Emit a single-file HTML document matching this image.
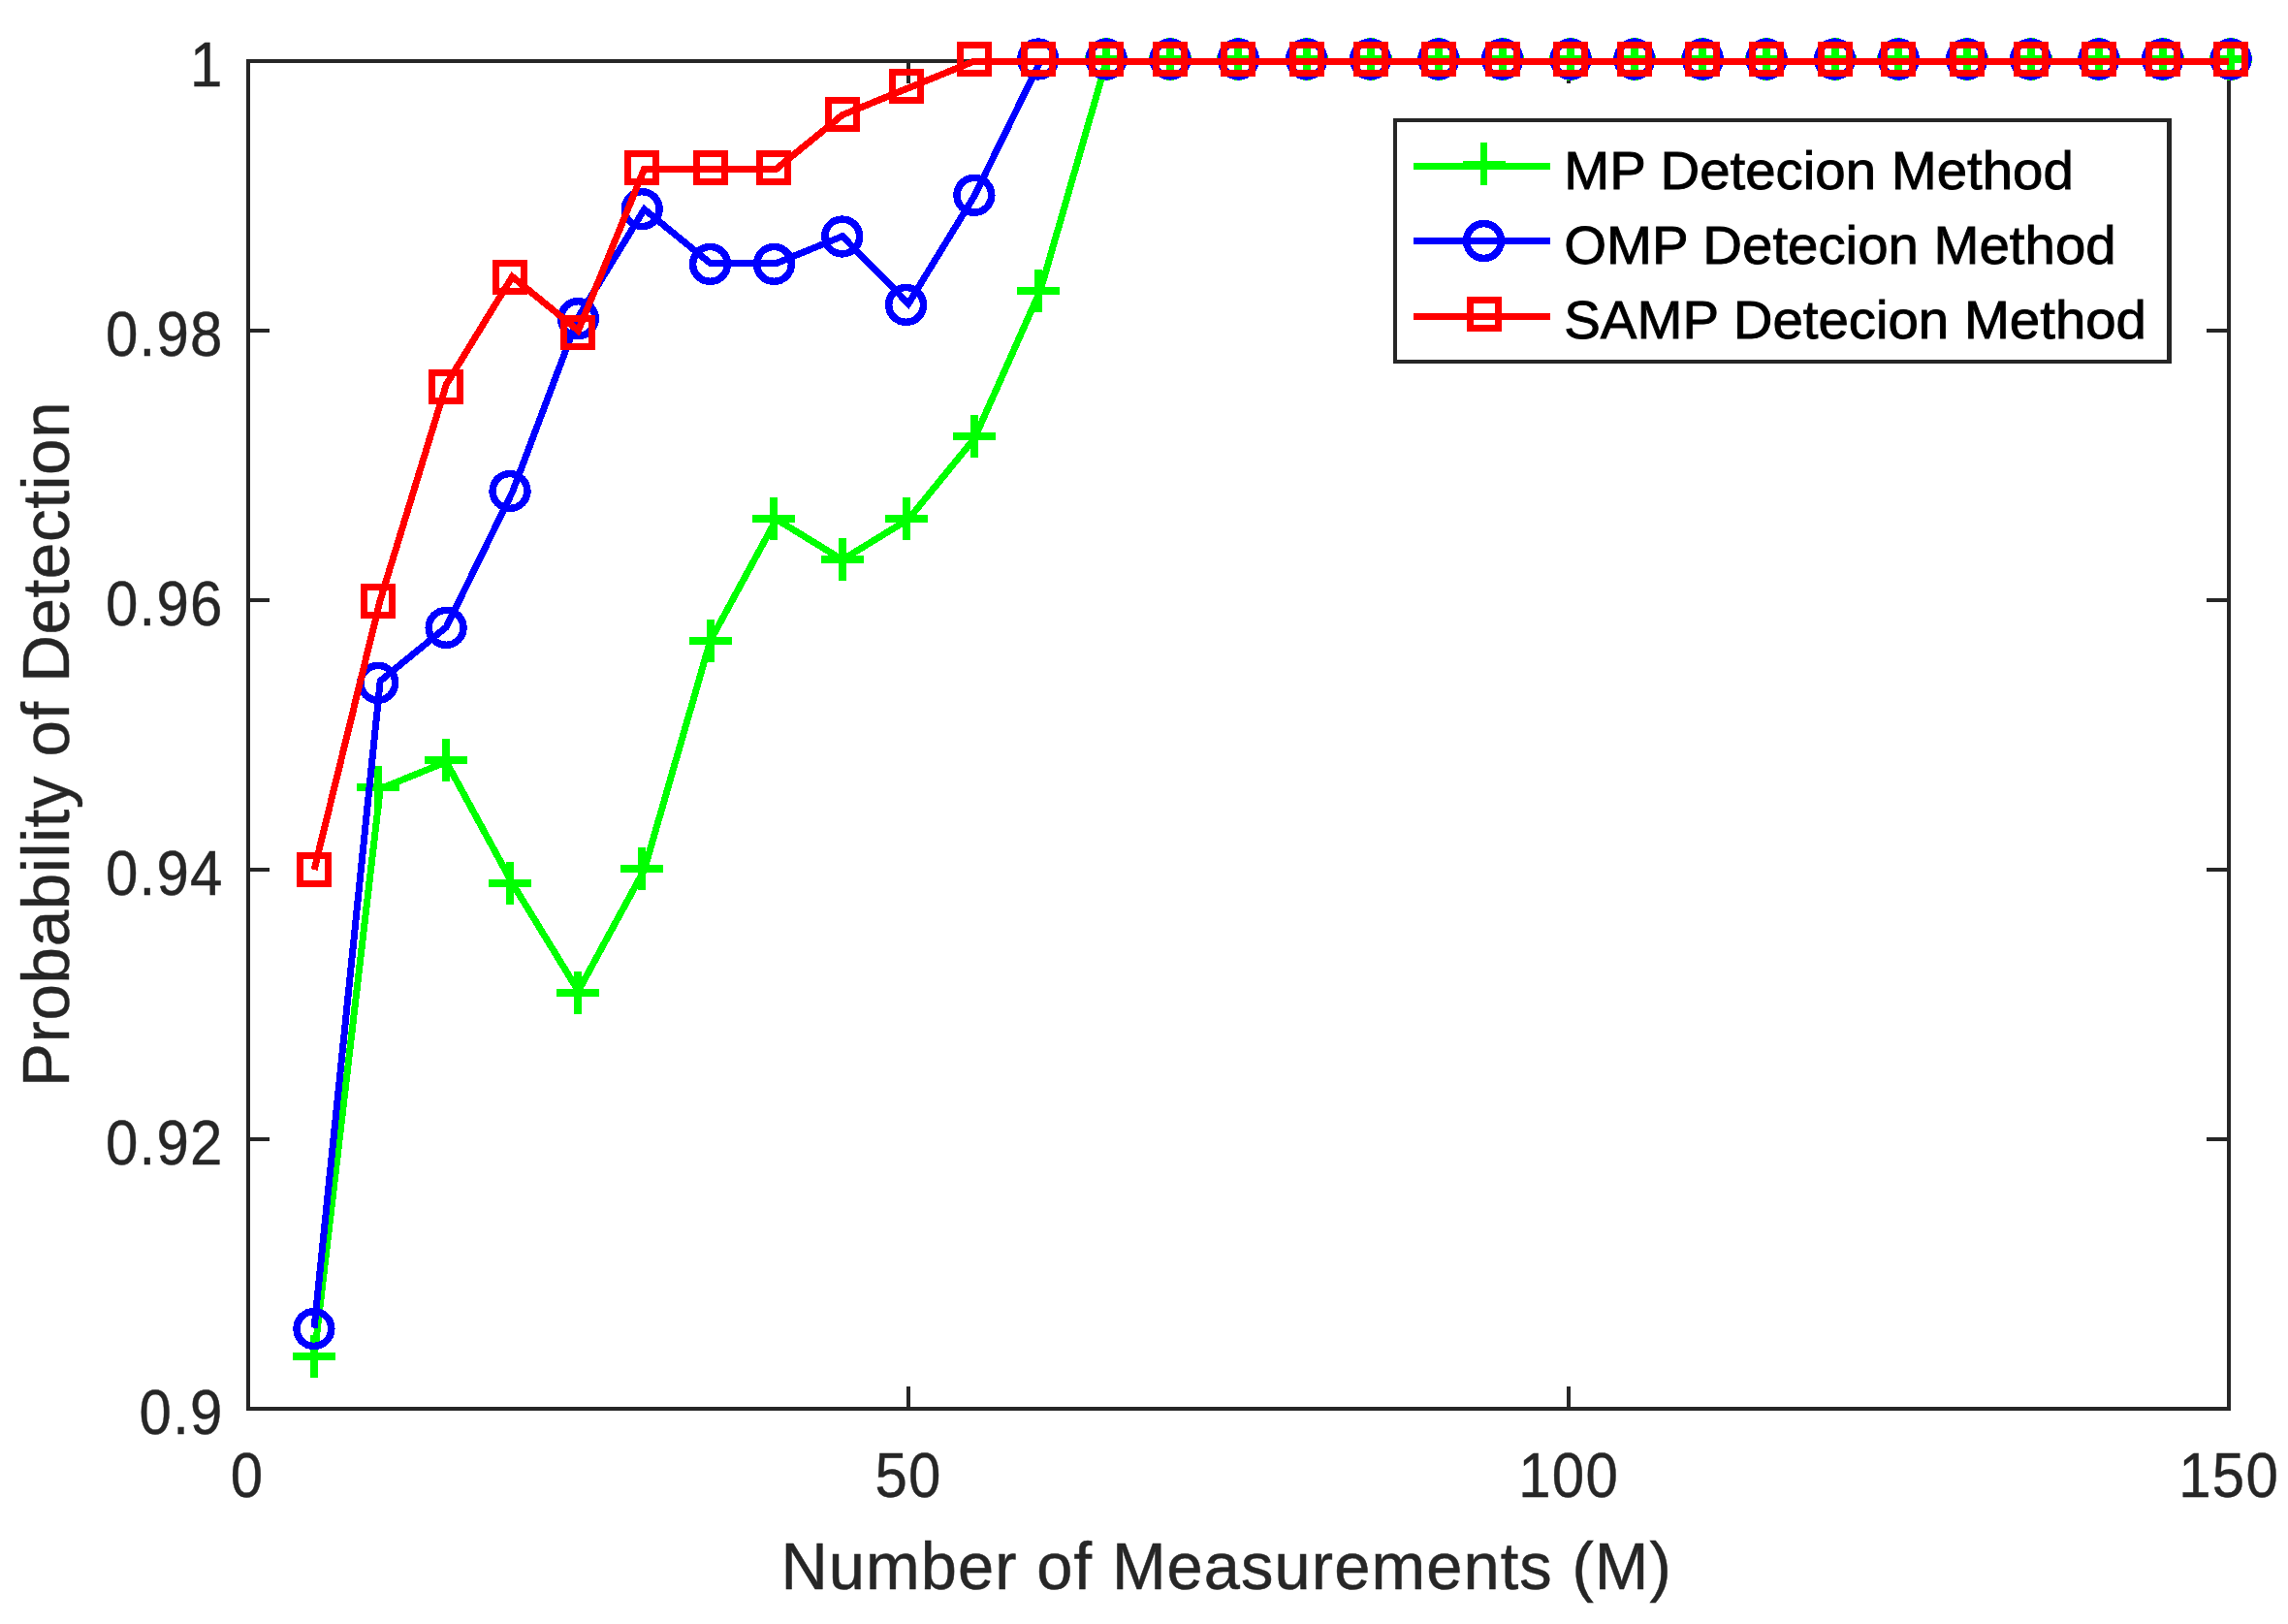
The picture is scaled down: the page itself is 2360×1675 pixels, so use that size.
<!DOCTYPE html>
<html lang="en"><head><meta charset="utf-8"><title>Probability of Detection vs Number of Measurements</title>
<style>
html,body{margin:0;padding:0;background:#fff;}
body{width:2360px;height:1675px;overflow:hidden;}
svg{display:block;}
text{font-family:"Liberation Sans",sans-serif;}
</style></head><body>
<svg width="2360" height="1675" viewBox="0 0 2360 1675">
<rect x="0" y="0" width="2360" height="1675" fill="#ffffff"/>

<g fill="none" stroke="#262626" stroke-width="4" shape-rendering="crispEdges">
<rect x="256.0" y="63.0" width="2043.0" height="1390.0"/>
<line x1="937" y1="1453.0" x2="937" y2="1430.0"/>
<line x1="937" y1="63.0" x2="937" y2="86.0"/>
<line x1="1618" y1="1453.0" x2="1618" y2="1430.0"/>
<line x1="1618" y1="63.0" x2="1618" y2="86.0"/>
<line x1="256.0" y1="1175" x2="278.0" y2="1175"/>
<line x1="2299.0" y1="1175" x2="2276.0" y2="1175"/>
<line x1="256.0" y1="897" x2="278.0" y2="897"/>
<line x1="2299.0" y1="897" x2="2276.0" y2="897"/>
<line x1="256.0" y1="619" x2="278.0" y2="619"/>
<line x1="2299.0" y1="619" x2="2276.0" y2="619"/>
<line x1="256.0" y1="341" x2="278.0" y2="341"/>
<line x1="2299.0" y1="341" x2="2276.0" y2="341"/>
</g>
<g fill="#262626" stroke="#262626" stroke-width="0.4" font-size="60" letter-spacing="1.2">
<text transform="translate(255.0,1544.4) scale(1,1.075)" text-anchor="middle">0</text>
<text transform="translate(937.1,1544.4) scale(1,1.075)" text-anchor="middle">50</text>
<text transform="translate(1618.1,1544.4) scale(1,1.075)" text-anchor="middle">100</text>
<text transform="translate(2299.1,1544.4) scale(1,1.075)" text-anchor="middle">150</text>
<text transform="translate(230.6,1479.3) scale(1,1.075)" text-anchor="end">0.9</text>
<text transform="translate(230.6,1201.3) scale(1,1.075)" text-anchor="end">0.92</text>
<text transform="translate(230.6,923.3) scale(1,1.075)" text-anchor="end">0.94</text>
<text transform="translate(230.6,645.3) scale(1,1.075)" text-anchor="end">0.96</text>
<text transform="translate(230.6,367.3) scale(1,1.075)" text-anchor="end">0.98</text>
<text transform="translate(230.6,89.3) scale(1,1.075)" text-anchor="end">1</text>
</g>
<text transform="translate(1265.2,1639) scale(1,1.03)" text-anchor="middle" font-size="66.8" letter-spacing="1.1" fill="#262626" stroke="#262626" stroke-width="0.5">Number of Measurements (M)</text>
<text transform="translate(71,767.4) rotate(-90) scale(1,1.03)" text-anchor="middle" font-size="67.4" letter-spacing="0.6" fill="#262626" stroke="#262626" stroke-width="0.4">Probability of Detection</text>
<g stroke="#00ff00" fill="none" shape-rendering="crispEdges">
<polyline points="324.10,1398.79 392.20,813.60 460.30,785.80 528.40,910.90 596.50,1022.10 664.60,897.00 732.70,660.70 800.80,535.60 868.90,577.30 937.00,535.60 1005.10,452.20 1073.20,299.30 1141.30,63.00 1209.40,63.00 1277.50,63.00 1345.60,63.00 1413.70,63.00 1481.80,63.00 1549.90,63.00 1618.00,63.00 1686.10,63.00 1754.20,63.00 1822.30,63.00 1890.40,63.00 1958.50,63.00 2026.60,63.00 2094.70,63.00 2162.80,63.00 2230.90,63.00 2299.00,63.00" stroke-width="7" stroke-linejoin="miter"/>
<path d="M301.90 1398.99H345.90M323.90 1376.99V1420.99" stroke-width="8"/>
<path d="M367.80 812.20H411.80M389.80 790.20V834.20" stroke-width="8"/>
<path d="M438.10 784.20H482.10M460.10 762.20V806.20" stroke-width="8"/>
<path d="M504.00 910.50H548.00M526.00 888.50V932.50" stroke-width="8"/>
<path d="M574.30 1023.60H618.30M596.30 1001.60V1045.60" stroke-width="8"/>
<path d="M640.20 896.30H684.20M662.20 874.30V918.30" stroke-width="8"/>
<path d="M710.50 661.40H754.50M732.50 639.40V683.40" stroke-width="8"/>
<path d="M776.40 535.00H820.40M798.40 513.00V557.00" stroke-width="8"/>
<path d="M846.70 577.20H890.70M868.70 555.20V599.20" stroke-width="8"/>
<path d="M912.60 535.00H956.60M934.60 513.00V557.00" stroke-width="8"/>
<path d="M982.90 450.40H1026.90M1004.90 428.40V472.40" stroke-width="8"/>
<path d="M1048.80 300.20H1092.80M1070.80 278.20V322.20" stroke-width="8"/>
<path d="M1119.10 61.00H1163.10M1141.10 39.00V83.00" stroke-width="8"/>
<path d="M1185.00 61.00H1229.00M1207.00 39.00V83.00" stroke-width="8"/>
<path d="M1255.30 61.00H1299.30M1277.30 39.00V83.00" stroke-width="8"/>
<path d="M1325.70 61.00H1369.70M1347.70 39.00V83.00" stroke-width="8"/>
<path d="M1391.50 61.00H1435.50M1413.50 39.00V83.00" stroke-width="8"/>
<path d="M1461.90 61.00H1505.90M1483.90 39.00V83.00" stroke-width="8"/>
<path d="M1527.70 61.00H1571.70M1549.70 39.00V83.00" stroke-width="8"/>
<path d="M1598.10 61.00H1642.10M1620.10 39.00V83.00" stroke-width="8"/>
<path d="M1663.90 61.00H1707.90M1685.90 39.00V83.00" stroke-width="8"/>
<path d="M1734.30 61.00H1778.30M1756.30 39.00V83.00" stroke-width="8"/>
<path d="M1800.10 61.00H1844.10M1822.10 39.00V83.00" stroke-width="8"/>
<path d="M1870.50 61.00H1914.50M1892.50 39.00V83.00" stroke-width="8"/>
<path d="M1936.30 61.00H1980.30M1958.30 39.00V83.00" stroke-width="8"/>
<path d="M2006.70 61.00H2050.70M2028.70 39.00V83.00" stroke-width="8"/>
<path d="M2072.50 61.00H2116.50M2094.50 39.00V83.00" stroke-width="8"/>
<path d="M2142.90 61.00H2186.90M2164.90 39.00V83.00" stroke-width="8"/>
<path d="M2208.70 61.00H2252.70M2230.70 39.00V83.00" stroke-width="8"/>
<path d="M2279.10 61.00H2323.10M2301.10 39.00V83.00" stroke-width="8"/>
</g>
<g stroke="#0000ff" fill="none" shape-rendering="crispEdges">
<polyline points="324.10,1369.60 392.20,702.40 460.30,646.80 528.40,507.80 596.50,327.10 664.60,215.90 732.70,271.50 800.80,271.50 868.90,243.70 937.00,313.20 1005.10,202.00 1073.20,63.00 1141.30,63.00 1209.40,63.00 1277.50,63.00 1345.60,63.00 1413.70,63.00 1481.80,63.00 1549.90,63.00 1618.00,63.00 1686.10,63.00 1754.20,63.00 1822.30,63.00 1890.40,63.00 1958.50,63.00 2026.60,63.00 2094.70,63.00 2162.80,63.00 2230.90,63.00 2299.00,63.00" stroke-width="7" stroke-linejoin="miter"/>
<circle cx="323.90" cy="1370.50" r="17.9" stroke-width="7.5"/>
<circle cx="389.80" cy="704.30" r="17.9" stroke-width="7.5"/>
<circle cx="460.10" cy="647.40" r="17.9" stroke-width="7.5"/>
<circle cx="526.00" cy="506.50" r="17.9" stroke-width="7.5"/>
<circle cx="596.30" cy="328.60" r="17.9" stroke-width="7.5"/>
<circle cx="662.20" cy="215.60" r="17.9" stroke-width="7.5"/>
<circle cx="732.50" cy="272.40" r="17.9" stroke-width="7.5"/>
<circle cx="798.40" cy="272.40" r="17.9" stroke-width="7.5"/>
<circle cx="868.70" cy="244.00" r="17.9" stroke-width="7.5"/>
<circle cx="934.60" cy="314.40" r="17.9" stroke-width="7.5"/>
<circle cx="1004.90" cy="201.30" r="17.9" stroke-width="7.5"/>
<circle cx="1070.80" cy="61.00" r="17.9" stroke-width="7.5"/>
<circle cx="1141.10" cy="61.00" r="17.9" stroke-width="7.5"/>
<circle cx="1207.00" cy="61.00" r="17.9" stroke-width="7.5"/>
<circle cx="1277.30" cy="61.00" r="17.9" stroke-width="7.5"/>
<circle cx="1347.70" cy="61.00" r="17.9" stroke-width="7.5"/>
<circle cx="1413.50" cy="61.00" r="17.9" stroke-width="7.5"/>
<circle cx="1483.90" cy="61.00" r="17.9" stroke-width="7.5"/>
<circle cx="1549.70" cy="61.00" r="17.9" stroke-width="7.5"/>
<circle cx="1620.10" cy="61.00" r="17.9" stroke-width="7.5"/>
<circle cx="1685.90" cy="61.00" r="17.9" stroke-width="7.5"/>
<circle cx="1756.30" cy="61.00" r="17.9" stroke-width="7.5"/>
<circle cx="1822.10" cy="61.00" r="17.9" stroke-width="7.5"/>
<circle cx="1892.50" cy="61.00" r="17.9" stroke-width="7.5"/>
<circle cx="1958.30" cy="61.00" r="17.9" stroke-width="7.5"/>
<circle cx="2028.70" cy="61.00" r="17.9" stroke-width="7.5"/>
<circle cx="2094.50" cy="61.00" r="17.9" stroke-width="7.5"/>
<circle cx="2164.90" cy="61.00" r="17.9" stroke-width="7.5"/>
<circle cx="2230.70" cy="61.00" r="17.9" stroke-width="7.5"/>
<circle cx="2301.10" cy="61.00" r="17.9" stroke-width="7.5"/>
</g>
<g stroke="#ff0000" fill="none" shape-rendering="crispEdges">
<polyline points="324.10,897.00 392.20,619.00 460.30,396.60 528.40,285.40 596.50,341.00 664.60,174.20 732.70,174.20 800.80,174.20 868.90,118.60 937.00,90.80 1005.10,63.00 1073.20,63.00 1141.30,63.00 1209.40,63.00 1277.50,63.00 1345.60,63.00 1413.70,63.00 1481.80,63.00 1549.90,63.00 1618.00,63.00 1686.10,63.00 1754.20,63.00 1822.30,63.00 1890.40,63.00 1958.50,63.00 2026.60,63.00 2094.70,63.00 2162.80,63.00 2230.90,63.00 2299.00,63.00" stroke-width="7" stroke-linejoin="miter"/>
<rect x="309.40" y="882.00" width="29" height="29" stroke-width="7"/>
<rect x="375.30" y="605.20" width="29" height="29" stroke-width="7"/>
<rect x="445.60" y="384.40" width="29" height="29" stroke-width="7"/>
<rect x="511.50" y="271.90" width="29" height="29" stroke-width="7"/>
<rect x="581.80" y="328.30" width="29" height="29" stroke-width="7"/>
<rect x="647.70" y="158.90" width="29" height="29" stroke-width="7"/>
<rect x="718.00" y="158.90" width="29" height="29" stroke-width="7"/>
<rect x="783.90" y="158.90" width="29" height="29" stroke-width="7"/>
<rect x="854.20" y="103.10" width="29" height="29" stroke-width="7"/>
<rect x="920.10" y="74.00" width="29" height="29" stroke-width="7"/>
<rect x="990.40" y="46.50" width="29" height="29" stroke-width="7"/>
<rect x="1056.30" y="46.50" width="29" height="29" stroke-width="7"/>
<rect x="1126.60" y="46.50" width="29" height="29" stroke-width="7"/>
<rect x="1192.50" y="46.50" width="29" height="29" stroke-width="7"/>
<rect x="1262.80" y="46.50" width="29" height="29" stroke-width="7"/>
<rect x="1333.20" y="46.50" width="29" height="29" stroke-width="7"/>
<rect x="1399.00" y="46.50" width="29" height="29" stroke-width="7"/>
<rect x="1469.40" y="46.50" width="29" height="29" stroke-width="7"/>
<rect x="1535.20" y="46.50" width="29" height="29" stroke-width="7"/>
<rect x="1605.60" y="46.50" width="29" height="29" stroke-width="7"/>
<rect x="1671.40" y="46.50" width="29" height="29" stroke-width="7"/>
<rect x="1741.80" y="46.50" width="29" height="29" stroke-width="7"/>
<rect x="1807.60" y="46.50" width="29" height="29" stroke-width="7"/>
<rect x="1878.00" y="46.50" width="29" height="29" stroke-width="7"/>
<rect x="1943.80" y="46.50" width="29" height="29" stroke-width="7"/>
<rect x="2014.20" y="46.50" width="29" height="29" stroke-width="7"/>
<rect x="2080.00" y="46.50" width="29" height="29" stroke-width="7"/>
<rect x="2150.40" y="46.50" width="29" height="29" stroke-width="7"/>
<rect x="2216.20" y="46.50" width="29" height="29" stroke-width="7"/>
<rect x="2286.60" y="46.50" width="29" height="29" stroke-width="7"/>
</g>
<rect x="1439" y="124" width="799" height="249" fill="#fff" stroke="#262626" stroke-width="4" shape-rendering="crispEdges"/>
<rect x="2235" y="122" width="5" height="253" fill="#262626" shape-rendering="crispEdges"/>
<g stroke="#00ff00" fill="none" shape-rendering="crispEdges">
<line x1="1458" y1="171.4" x2="1599" y2="171.4" stroke-width="7"/>
<path d="M1508.50 169.10H1552.50M1530.50 147.10V191.10" stroke-width="7"/>
</g>
<text transform="translate(1613.2,194.8) scale(1,1.0)" font-size="56.4" fill="#000" stroke="#000" stroke-width="0.9">MP Detecion Method</text>
<g stroke="#0000ff" fill="none" shape-rendering="crispEdges">
<line x1="1458" y1="248.5" x2="1599" y2="248.5" stroke-width="7"/>
<circle cx="1530.50" cy="248.50" r="17.9" stroke-width="7.5"/>
</g>
<text transform="translate(1613.2,271.5) scale(1,1.0)" font-size="56.4" fill="#000" stroke="#000" stroke-width="0.9">OMP Detecion Method</text>
<g stroke="#ff0000" fill="none" shape-rendering="crispEdges">
<line x1="1458" y1="326.4" x2="1599" y2="326.4" stroke-width="7"/>
<rect x="1516.00" y="309.60" width="29" height="29" stroke-width="7"/>
</g>
<text transform="translate(1613.2,349.3) scale(1,1.0)" font-size="56.4" fill="#000" stroke="#000" stroke-width="0.9">SAMP Detecion Method</text>
</svg>
</body></html>
